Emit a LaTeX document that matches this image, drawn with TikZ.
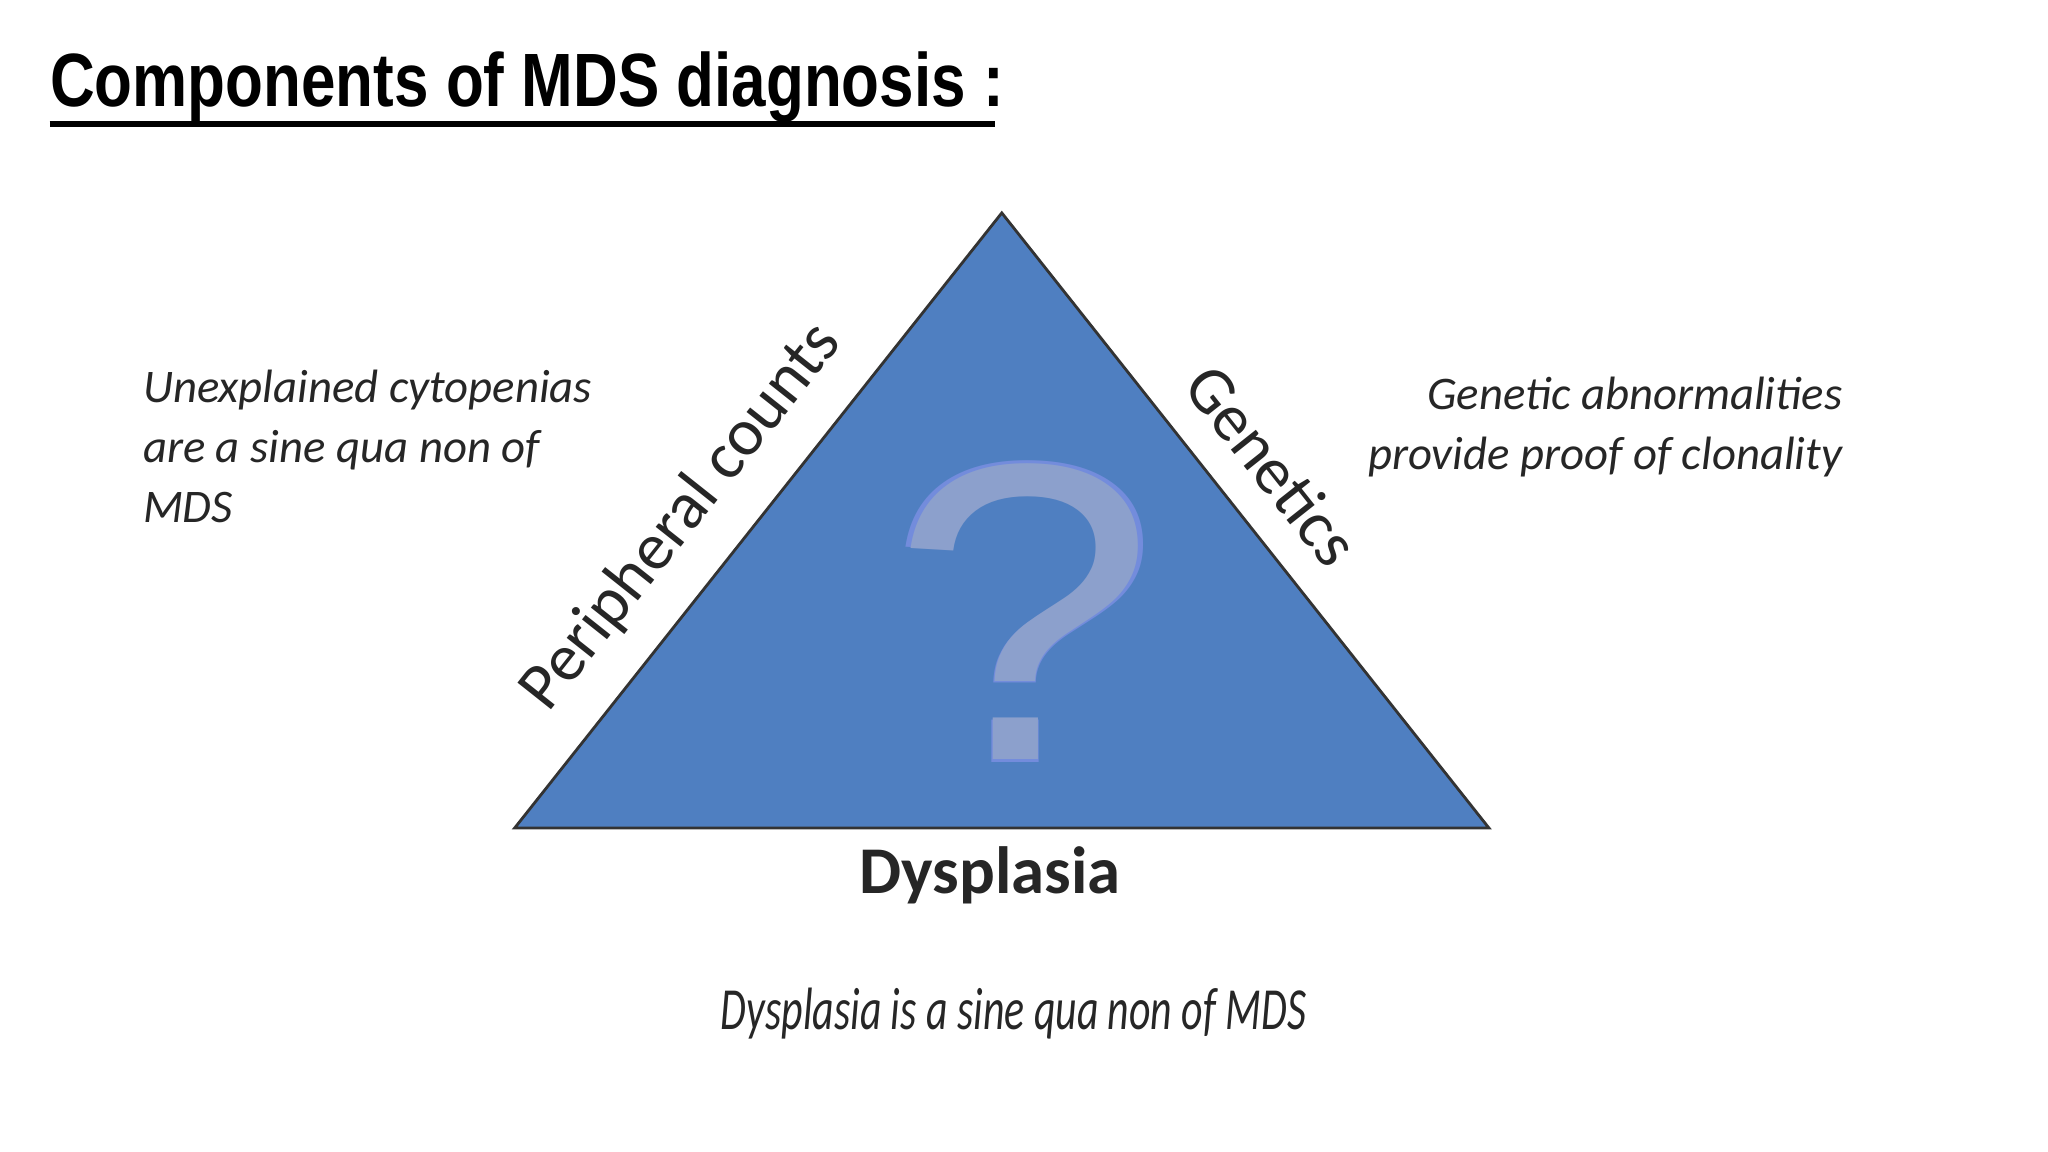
\documentclass[tikz,border=0pt]{standalone}
\usepackage{fontspec}
\setmainfont{Carlito}
\newfontfamily\arialf{Liberation Sans}
\newfontfamily\lato{Lato}
\begin{document}
\begin{tikzpicture}[x=0.0130612cm,y=-0.0130612cm,
  lbl/.style={font=\fontsize{19}{22}\selectfont, text=black!85},
  note/.style={font=\fontsize{13.3}{17}\selectfont\itshape, text=black!85, align=left}]
\useasboundingbox (0,0) rectangle (1568,882);
\fill[white] (0,0) rectangle (1568,882);
\coordinate (A) at (767,163);
\coordinate (B) at (394,634);
\coordinate (C) at (1140,634);
\draw[fill={rgb,255:red,79;green,127;blue,193}, draw=black!80, line width=0.8pt] (A) -- (B) -- (C) -- cycle;
\node[text={rgb,255:red,115;green,140;blue,220}, xscale=1.15, font=\arialf\fontsize{123}{123}\selectfont] (q0) at (784,468) {?};
\node[text={rgb,255:red,140;green,160;blue,204}, xscale=1.1, yscale=0.98, font=\arialf\fontsize{123}{123}\selectfont] (q) at (784,468) {?};
\node[anchor=west, xscale=0.82, inner sep=0pt, font=\arialf\bfseries\fontsize{21.5}{24}\selectfont] (t) at (38,67) {Components of MDS diagnosis :};
\draw[line width=1.6pt] (38,95) -- (762,95);
\node[lbl, rotate=51.6] (pc) at (522,396) {Peripheral counts};
\node[lbl, rotate=-51.6] (ge) at (974,356) {Genetics};
\node[lbl, font=\fontsize{19}{22}\selectfont\bfseries] (dy) at (758,670) {Dysplasia};
\node[note, anchor=north west] (n1) at (100,274) {Unexplained cytopenias\\are a sine qua non of\\MDS};
\node[note, anchor=north east, align=right] (n2) at (1420,279) {Genetic abnormalities\\provide proof of clonality};
\node[note, xscale=0.7, font=\fontsize{17}{20}\selectfont\itshape] (n3) at (776,776) {Dysplasia is a sine qua non of MDS};
\end{tikzpicture}
\end{document}
